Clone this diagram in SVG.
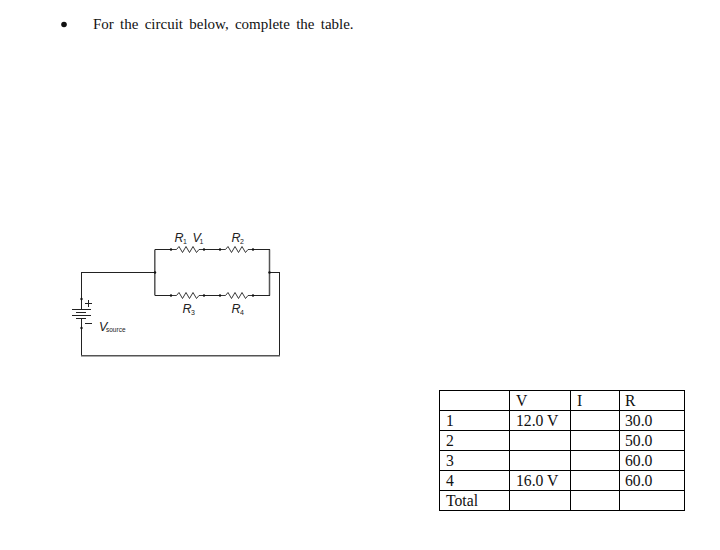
<svg xmlns="http://www.w3.org/2000/svg" width="720" height="550" viewBox="0 0 720 550">
<style>
.h{font-family:"Liberation Serif","Times New Roman",serif;font-size:15px;fill:#111}
.t{font-family:"Liberation Serif","Times New Roman",serif;font-size:15.7px;fill:#111}
.l{font-family:"Liberation Sans",Arial,sans-serif;font-style:italic;font-size:12.5px;fill:#222}
.s{font-family:"Liberation Sans",Arial,sans-serif;font-size:6.5px;fill:#222}
.n{font-family:"Liberation Sans",Arial,sans-serif;font-size:7px;fill:#222}
.w{fill:none;stroke:#222;stroke-width:1;shape-rendering:crispEdges}
.b{fill:none;stroke:#555;stroke-width:1.5}
.z{fill:none;stroke:#222;stroke-width:.9}
.g{fill:none;stroke:#000;stroke-width:1;shape-rendering:crispEdges}
.d{fill:#111}
</style>
<defs>
<g id="res"><path class="z" d="M0 0H5.500L8 -3 11.500 3 15 -3 18.500 3 22 -3 25.500 3 28 0H33"/><circle class="d" cx="0" cy="0" r="1.2"/><circle class="d" cx="33" cy="0" r="1.2"/></g>
</defs>
<g id="heading">
<circle class="d" cx="64" cy="24.500" r="2.800"/>
<text class="h" x="93" y="29" word-spacing="2.500">For the circuit below, complete the table.</text>
</g>
<g id="connectors">
<path class="w" d="M81.500 299V272.500H154.500"/>
<path class="b" d="M154.800 272.500V249.500M154.800 272.500V295.500M269.500 249.500V295.500"/>
<path class="w" d="M154.500 249.500H171M204 249.500H220M253 249.500H269.500"/>
<path class="w" d="M154.500 295.500H171M204 295.500H220M253 295.500H269.500"/>
<path class="w" d="M269.500 272.500H279.500V355.500M81.500 355.500V328"/>
<path class="b" d="M81 355.800H280"/>
<path class="w" d="M81.500 299V309.500M81.500 318.500V328"/>
</g>
<g id="battery">
<path class="w" d="M72 309.500H91M76 312.500H86M72 315.500H91M76 318.500H86"/>
<circle class="d" cx="81.500" cy="299" r="1.200"/>
<circle class="d" cx="81.500" cy="328" r="1.200"/>
<path class="w" d="M85 303.500H92M88.500 300V307M85 323.500H92"/>
<text class="l" x="99" y="331">V</text><text class="s" x="106" y="332">source</text>
</g>
<g id="junctions">
<circle class="d" cx="155" cy="272.500" r="1.200"/>
<circle class="d" cx="269.500" cy="272.500" r="1.200"/>
</g>
<g id="R1"><use href="#res" x="171" y="249.500"/><text class="l" x="174.500" y="242">R</text><text class="n" x="183" y="243.500">1</text></g>
<g id="V1"><text class="l" x="192.500" y="242">V</text><text class="n" x="199.500" y="243.500">1</text></g>
<g id="R2"><use href="#res" x="220" y="249.500"/><text class="l" x="231.500" y="242">R</text><text class="n" x="240" y="243.500">2</text></g>
<g id="R3"><use href="#res" x="171" y="295.500"/><text class="l" x="182.500" y="313">R</text><text class="n" x="191" y="315">3</text></g>
<g id="R4"><use href="#res" x="220" y="295.500"/><text class="l" x="231.500" y="313">R</text><text class="n" x="240" y="315">4</text></g>
<g id="table">
<path class="g" d="M439.500 390.500H684.500V510.500H439.500ZM439.500 410.500H684.500M439.500 430.500H684.500M439.500 450.500H684.500M439.500 470.500H684.500M439.500 490.500H684.500M509.500 390.500V510.500M570.500 390.500V510.500M619.500 390.500V510.500"/>
<text class="t" x="516" y="406">V</text><text class="t" x="577" y="406">I</text><text class="t" x="625" y="406">R</text>
<text class="t" x="446" y="426">1</text><text class="t" x="516" y="426">12.0 V</text><text class="t" x="625" y="426">30.0</text>
<text class="t" x="446" y="446">2</text><text class="t" x="625" y="446">50.0</text>
<text class="t" x="446" y="466">3</text><text class="t" x="625" y="466">60.0</text>
<text class="t" x="446" y="486">4</text><text class="t" x="516" y="486">16.0 V</text><text class="t" x="625" y="486">60.0</text>
<text class="t" x="446" y="506">Total</text>
</g>
</svg>
